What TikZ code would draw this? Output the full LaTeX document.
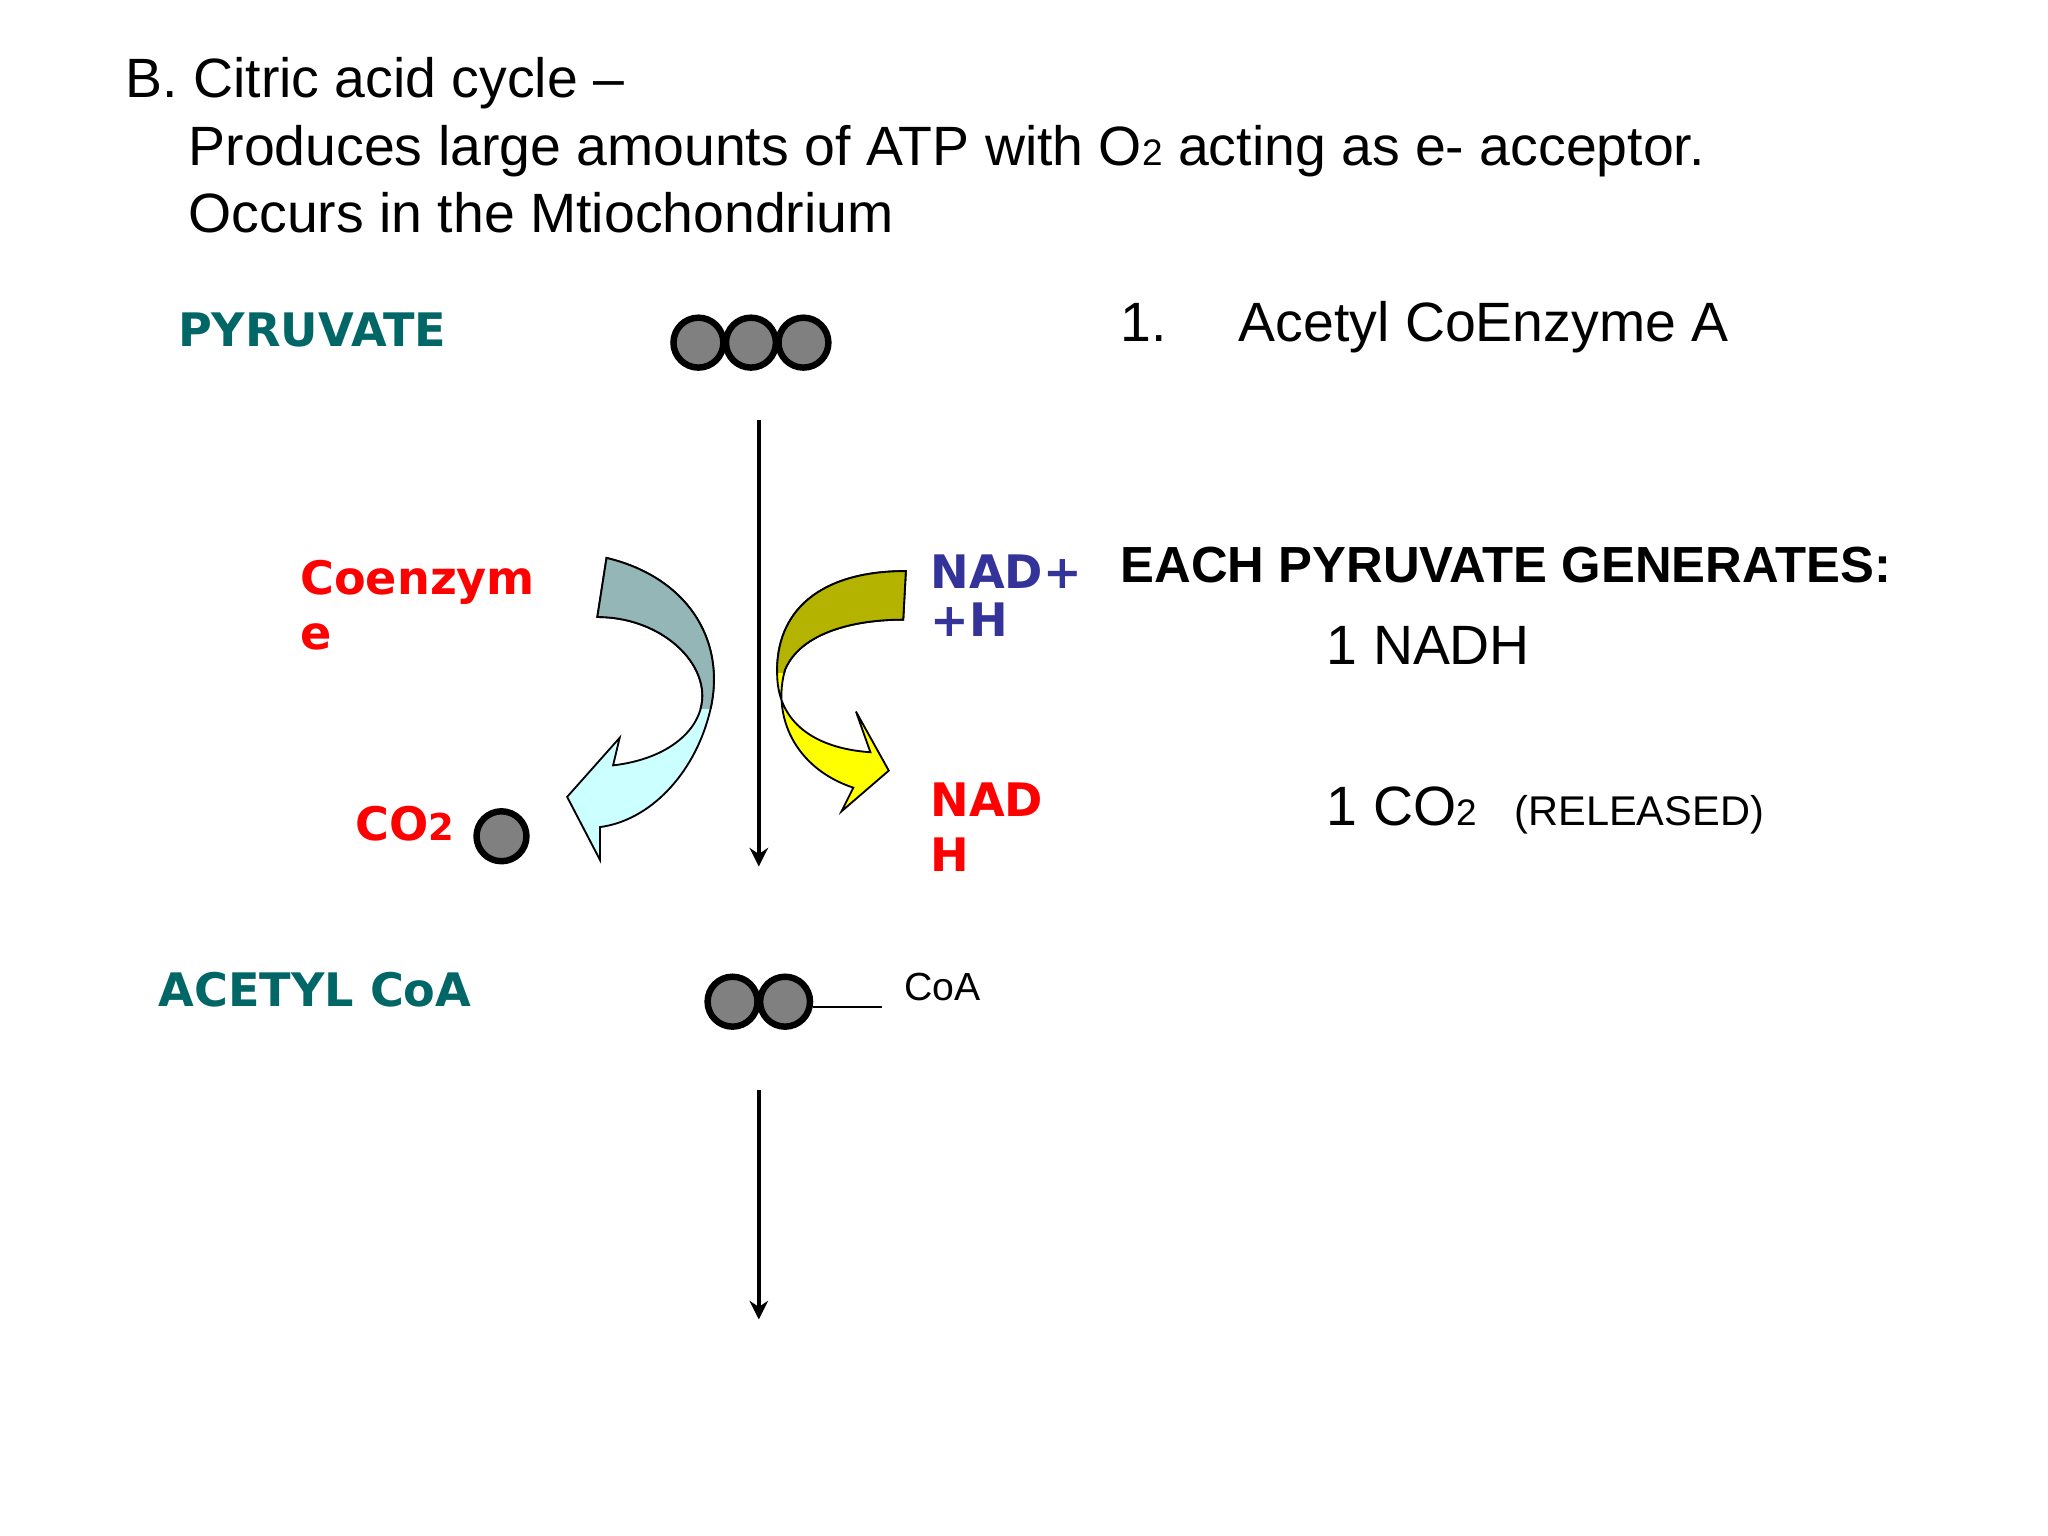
\documentclass[tikz,border=0pt]{standalone}
\usepackage{fontspec}
\usetikzlibrary{arrows.meta}
\setmainfont{Liberation Sans}
\newfontfamily\blk{DejaVu Sans}
\definecolor{tealc}{RGB}{0,102,102}
\definecolor{navyc}{RGB}{51,51,153}
\definecolor{grayteal}{RGB}{148,182,182}
\definecolor{cyanl}{RGB}{204,255,255}
\definecolor{olivec}{RGB}{180,180,0}
\definecolor{yel}{RGB}{255,255,0}
\tikzset{
 x=0.01cm,y=-0.01cm,
 ttl/.style={anchor=base west,inner sep=0,font=\fontsize{12}{14}\selectfont},
 lbl/.style={anchor=base west,inner sep=0,font=\blk\bfseries\fontsize{10}{12}\selectfont},
 atom/.style={circle,draw=black,line width=1.4pt,fill=gray,minimum size=0.38cm,inner sep=0},
 flow/.style={-{Stealth[length=4pt,width=4pt]},line width=0.8pt},
}
\newcommand{\sub}[1]{{\fontsize{8}{8}\selectfont #1}}
\begin{document}
\begin{tikzpicture}
\useasboundingbox (0,0) rectangle (1560,1170);
\fill[white] (0,0) rectangle (1560,1170);
\node[ttl] (t1) at (95,74) {B. Citric acid cycle --};
\node[ttl] (t2) at (143,126) {Produces large amounts of ATP with O\sub{2} acting as e- acceptor.};
\node[ttl] (t3) at (143,177) {Occurs in the Mtiochondrium};
\node[lbl,text=tealc] (pyr) at (135,264) {PYRUVATE};
\node[atom] (p1) at (532,261) {};
\node[atom] (p2) at (572,261) {};
\node[atom] (p3) at (612,261) {};
\coordinate (a1s) at (578,320); \coordinate (a1e) at (578,660);
\draw[flow] (a1s) -- (a1e);
% left curved arrow
\begin{scope}
\path[fill=cyanl,draw=black,line width=0.4pt] (462,425) .. controls (525,440) and (555,490) .. (540,545) .. controls (528,590) and (495,625) .. (457,630) -- (457,655) -- (432,607) -- (472,562) -- (467,583) .. controls (510,578) and (535,555) .. (535,530) .. controls (535,500) and (500,470) .. (455,470) -- cycle;
\clip (400,400) rectangle (600,540);
\path[fill=grayteal,draw=black,line width=0.4pt] (462,425) .. controls (525,440) and (555,490) .. (540,545) .. controls (528,590) and (495,625) .. (457,630) -- (457,655) -- (432,607) -- (472,562) -- (467,583) .. controls (510,578) and (535,555) .. (535,530) .. controls (535,500) and (500,470) .. (455,470) -- cycle;
\end{scope}
% right curved arrow
\begin{scope}
\path[fill=yel,draw=black,line width=0.4pt] (690,435) .. controls (625,435) and (590,465) .. (592,515) .. controls (593,550) and (620,570) .. (663,573) -- (652,542) -- (677,587) -- (641,618) -- (650,600) .. controls (605,585) and (588,545) .. (598,510) .. controls (610,482) and (650,472) .. (688,472) -- cycle;
\clip (560,400) rectangle (720,512);
\path[fill=olivec,draw=black,line width=0.4pt] (690,435) .. controls (625,435) and (590,465) .. (592,515) .. controls (593,550) and (620,570) .. (663,573) -- (652,542) -- (677,587) -- (641,618) -- (650,600) .. controls (605,585) and (588,545) .. (598,510) .. controls (610,482) and (650,472) .. (688,472) -- cycle;
\end{scope}
\node[lbl,text=red] (coe1) at (228,453) {Coenzym};
\node[lbl,text=red] (coe2) at (228,495) {e};
\node[lbl,text=navyc] (nad1) at (708,448) {NAD+};
\node[lbl,text=navyc] (nad2) at (708,485) {+H};
\node[lbl,text=red] (nadh1) at (708,622) {NAD};
\node[lbl,text=red] (nadh2) at (708,664) {H};
\node[lbl,text=red] (co2) at (270,640) {CO\sub{2}};
\node[atom] (c1) at (382,637) {};
\node[lbl,text=tealc] (acc) at (120,767) {ACETYL CoA};
\node[atom] (q1) at (558,763) {};
\node[atom] (q2) at (598,763) {};
\node[anchor=base west,inner sep=0,font=\fontsize{8.5}{10}\selectfont] (coa) at (688,762) {CoA};
\coordinate (coal) at (672,767);
\draw[line width=0.5pt] (q2.east) ++(0,4) -- (coal);
\coordinate (a2s) at (578,830); \coordinate (a2e) at (578,1005);
\draw[flow] (a2s) -- (a2e);
\node[ttl] (r1) at (853,260) {1.};
\node[ttl] (r1b) at (943,260) {Acetyl CoEnzyme A};
\node[ttl,font=\bfseries\fontsize{11}{13}\selectfont] (r2) at (853,444) {EACH PYRUVATE GENERATES:};
\node[ttl] (r3) at (1010,506) {1 NADH};
\node[ttl] (r4) at (1010,629) {1 CO\sub{2}};
\node[anchor=base west,inner sep=0,font=\fontsize{9}{11}\selectfont] (r5) at (1153,629) {(RELEASED)};
\end{tikzpicture}
\end{document}
